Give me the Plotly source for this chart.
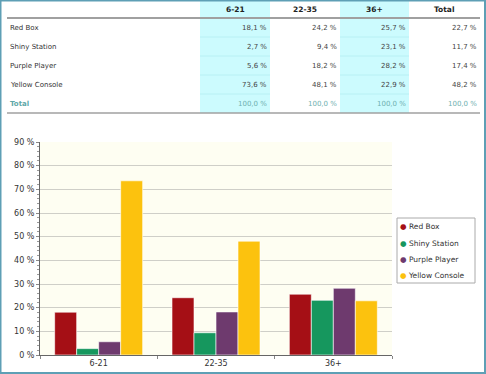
import plotly.graph_objects as go

W, H = 486, 374

categories = ["6-21", "22-35", "36+"]
series_names = ["Red Box", "Shiny Station", "Purple Player", "Yellow Console"]
values = {
    "Red Box": [18.1, 24.2, 25.7],
    "Shiny Station": [2.7, 9.4, 23.1],
    "Purple Player": [5.6, 18.2, 28.2],
    "Yellow Console": [73.6, 48.1, 22.9],
}
totals = [22.7, 11.7, 17.4, 48.2]
column_totals = [100.0, 100.0, 100.0, 100.0]
colors = ["#A50F15", "#16975E", "#6E3A6E", "#FCC20E"]
table_header = ["6-21", "22-35", "36+", "Total"]
total_label = "Total"

FONT = "DejaVu Sans"

def fmt(v):
    return f"{v:.1f}".replace(".", ",") + " %"

fig = go.Figure()

# ---- Bars ----
for name, c in zip(series_names, colors):
    fig.add_trace(go.Bar(
        x=categories, y=values[name], name=name,
        marker=dict(color=c, line=dict(color="white", width=0.6)),
        showlegend=False,
    ))

def px(x):
    return x / W

def py(y):
    return 1 - y / H

annotations = []
shapes = []

# ---- Table (layout constants) ----
col_edges = [(200, 270), (270, 340), (340, 409), (409, 480)]
highlight = [True, False, True, False]
header_y = 10
row_y = [28, 47, 66, 85, 104]
hl = "#CCFBFE"
for (x0, x1), h in zip(col_edges, highlight):
    if h:
        shapes.append(dict(type="rect", xref="paper", yref="paper", layer="below",
                           x0=px(x0), x1=px(x1), y0=py(113), y1=py(0),
                           fillcolor=hl, line=dict(width=0)))
        for yy in [37, 56, 75, 94]:
            shapes.append(dict(type="line", xref="paper", yref="paper", layer="below",
                               x0=px(x0), x1=px(x1), y0=py(yy), y1=py(yy),
                               line=dict(color="#B8F0F4", width=1)))

for (x0, x1), t in zip(col_edges, table_header):
    annotations.append(dict(xref="paper", yref="paper", x=px((x0 + x1) / 2), y=py(header_y),
                            xanchor="center", yanchor="middle", showarrow=False,
                            text=f"<b>{t}</b>", font=dict(family=FONT, size=7.5, color="#222222")))

table_rows = series_names + [total_label]
for ri, (label, yy) in enumerate(zip(table_rows, row_y)):
    is_total = ri == len(series_names)
    annotations.append(dict(xref="paper", yref="paper", x=px(8), y=py(yy),
                            xanchor="left", yanchor="middle", showarrow=False,
                            text=f"<b>{label}</b>" if is_total else label,
                            font=dict(family=FONT, size=7,
                                      color="#5FA8A8" if is_total else "#333333")))
    if is_total:
        row_vals = column_totals
    else:
        row_vals = values[label] + [totals[ri]]
    for (x0, x1), v in zip(col_edges, row_vals):
        annotations.append(dict(xref="paper", yref="paper", x=px(x1 - 1), y=py(yy),
                                xanchor="right", yanchor="middle", showarrow=False,
                                text=fmt(v),
                                font=dict(family=FONT, size=7,
                                          color="#6FB0B0" if is_total else "#444444")))

shapes += [
    dict(type="line", xref="paper", yref="paper",
         x0=px(7), x1=px(480), y0=py(18), y1=py(18),
         line=dict(color="#A0A0A0", width=2)),
    dict(type="line", xref="paper", yref="paper",
         x0=px(7), x1=px(480), y0=py(113), y1=py(113),
         line=dict(color="#A0A0A0", width=1.5)),
]

# ---- Custom legend ----
leg_left, leg_top, leg_right, leg_bottom = 397, 218, 475, 283
item_y = [226, 243, 259, 275]
shapes.append(dict(type="rect", xref="paper", yref="paper",
                   x0=px(leg_left), x1=px(leg_right), y0=py(leg_bottom), y1=py(leg_top),
                   line=dict(color="#AAAAAA", width=1), fillcolor="white"))
for name, c, yy in zip(series_names, colors, item_y):
    annotations.append(dict(
        xref="paper", yref="paper", x=px(leg_left + 1), y=py(yy),
        xanchor="left", yanchor="middle", showarrow=False,
        text=f"<span style='color:{c}'>●</span> {name}",
        font=dict(family=FONT, size=7.5, color="#333333"),
    ))

# ---- Outer border ----
shapes.append(dict(type="rect", xref="paper", yref="paper",
                   x0=px(0.5), x1=px(W - 1), y0=py(H - 1), y1=py(0.5),
                   line=dict(color="#5E9FB5", width=2)))

fig.update_layout(
    width=W, height=H,
    margin=dict(l=0, r=0, t=0, b=0, autoexpand=False),
    paper_bgcolor="white",
    plot_bgcolor="#FEFEF2",
    barmode="group",
    bargap=0.25,
    bargroupgap=0,
    showlegend=False,
    font=dict(family=FONT, size=8, color="#444444"),
    xaxis=dict(
        domain=[px(40), px(392)], automargin=False,
        showline=True, linecolor="#666666", linewidth=1,
        ticks="outside", tickson="boundaries", ticklen=3, tickcolor="#888888",
        tickfont=dict(size=8, color="#333333"),
        showgrid=False,
    ),
    yaxis=dict(
        domain=[py(355), py(142)], automargin=False,
        range=[0, 90], dtick=10, ticksuffix=" %",
        showline=True, linecolor="#666666", linewidth=1,
        gridcolor="#CFCFC8", gridwidth=1,
        ticks="outside", ticklen=3, tickcolor="#888888",
        minor=dict(ticks="outside", dtick=2, ticklen=2, tickcolor="#999999", showgrid=False),
        tickfont=dict(size=8, color="#333333"),
        zeroline=False,
    ),
    annotations=annotations,
    shapes=shapes,
)

fig.write_html("out.html", config={"displayModeBar": False},
               post_script="document.body.style.margin='0';")
